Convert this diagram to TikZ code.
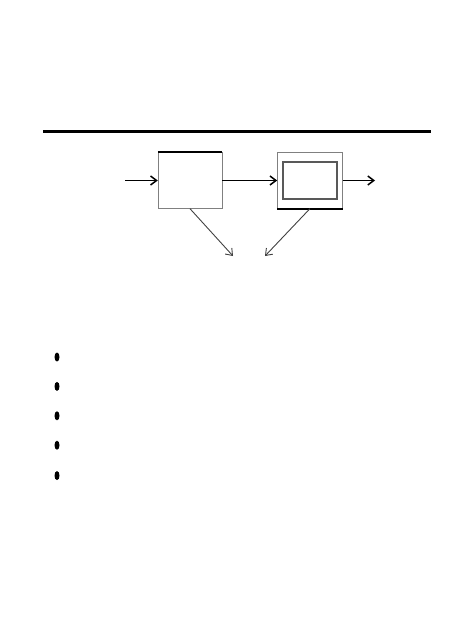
\documentclass[tikz,border=0pt]{standalone}
\usepackage{tikz}
\usetikzlibrary{positioning, shapes.geometric, arrows.meta}

\begin{document}
\begin{tikzpicture}[x=1pt, y=-1pt, >={Straight Barb[length=6pt, width=9pt]}]

 \useasboundingbox (0,0) rectangle (474,632);

 %%%  rule
 \draw [line width=3pt] (43,131) -- (431,131);

 %%%  nodes

 % blocks
 \node [rectangle, draw, gray, minimum width=64pt, minimum height=56pt, inner sep=0pt] (b1) at (190,180.5) {};
 \node [rectangle, draw, gray, minimum width=65pt, minimum height=56pt, inner sep=0pt, right=55pt of b1] (b2) {};
 \node [rectangle, draw, black!65, line width=1.2pt, minimum width=54pt, minimum height=37pt, inner sep=0pt] (b3) at (b2.center) {};

 \draw [line width=2pt] (b1.north west) to (b1.north east);
 \draw [line width=2pt] (b2.south west) to (b2.south east);

 % free ends
 \coordinate (in) at (125,180.5);
 \coordinate (out) at (375,180.5);
 \coordinate (p1) at (233,256);
 \coordinate (p2) at (265,256);

 \draw [->, line width=1.5pt] (in) to (b1);
 \draw [->, line width=1.5pt] (b1) to (b2);
 \draw [->, line width=1.5pt] (b2) to (out);
 \draw [->, black!75, line width=0.9pt] (b1.south) to (p1);
 \draw [->, black!75, line width=0.9pt] (b2.south) to (p2);

 % bullets
 \node [ellipse, fill, minimum width=5pt, minimum height=9pt, inner sep=0pt] (d1) at (57,357) {};
 \node [ellipse, fill, minimum width=5pt, minimum height=9pt, inner sep=0pt, below=20pt of d1] (d2) {};
 \node [ellipse, fill, minimum width=5pt, minimum height=9pt, inner sep=0pt, below=20pt of d2] (d3) {};
 \node [ellipse, fill, minimum width=5pt, minimum height=9pt, inner sep=0pt, below=20pt of d3] (d4) {};
 \node [ellipse, fill, minimum width=5pt, minimum height=9pt, inner sep=0pt, below=21pt of d4] (d5) {};

\end{tikzpicture}
\end{document}
